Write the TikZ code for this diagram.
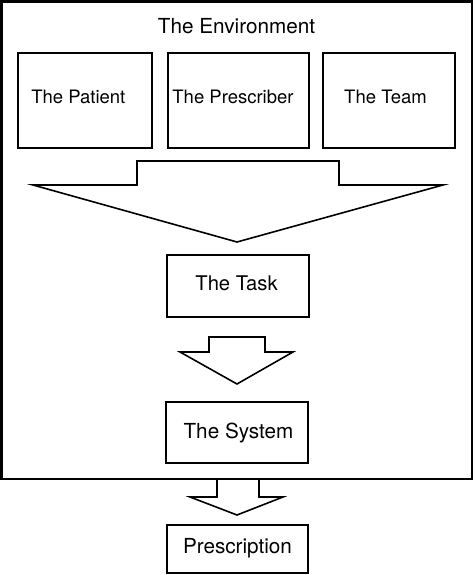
\documentclass[tikz,border=0pt]{standalone}
\usepackage{fontspec}
\setmainfont{TeX Gyre Heros}

\tikzset{
  box/.style={draw=black,line width=1.8pt,inner sep=0pt},
  lbl/.style={anchor=base,inner sep=0pt,font=\fontsize{#1}{#1}\selectfont},
  lbl/.default=18.5,
  blockarrow/.style={draw=black,fill=white,line width=1.6pt,line join=miter}
}

\begin{document}
\begin{tikzpicture}[x=1pt,y=-1pt]

  \useasboundingbox (0,0) rectangle (474,575);

  % the environment frame
  \node[box,line width=2.4pt,minimum width=470.5pt,minimum height=477.5pt] (env) at (236.75,240.25) {};
  \node[lbl=20.7] (envlbl) at (236.5,34) {The Environment};

  % the three boxes on top
  \foreach \name/\cx/\w/\tx/\txt in {patient/85/134/78.3/The Patient,
                                     prescriber/238.5/141/233/The Prescriber,
                                     team/389/132/385.5/The Team} {
    \node[box,minimum width=\w pt,minimum height=95pt] (\name) at (\cx,100.5) {};
    \node[lbl] (\name lbl) at (\tx,104) {\txt};
  };

  % the chain below
  \node[box,minimum width=142pt,minimum height=62pt] (task) at (238,286) {};
  \node[lbl=20.2] (tasklbl) at (236.5,290) {The Task};

  \node[box,minimum width=142pt,minimum height=61pt] (system) at (237,432.5) {};
  \node[lbl=20.7] (systemlbl) at (238.5,438) {The System};

  \node[box,minimum width=141pt,minimum height=48pt] (prescription) at (237.5,549) {};
  \node[lbl=20.7] (prescriptionlbl) at (237.5,553) {Prescription};

  % block arrows
  \foreach \sl/\sr/\top/\sh/\wl/\wr/\tip in {137/339/161/185/33/443/242,
                                            209/265/337/352/180/293/384} {
    \draw[blockarrow] (\sl,\top) -- (\sr,\top) -- (\sr,\sh) -- (\wr,\sh)
      -- (237,\tip) -- (\wl,\sh) -- (\sl,\sh) -- cycle;
  };

  \draw[blockarrow,fill=none] (217,479) -- (217,497) -- (190,497) -- (237,515)
    -- (283,497) -- (259,497) -- (259,479);

\end{tikzpicture}
\end{document}
